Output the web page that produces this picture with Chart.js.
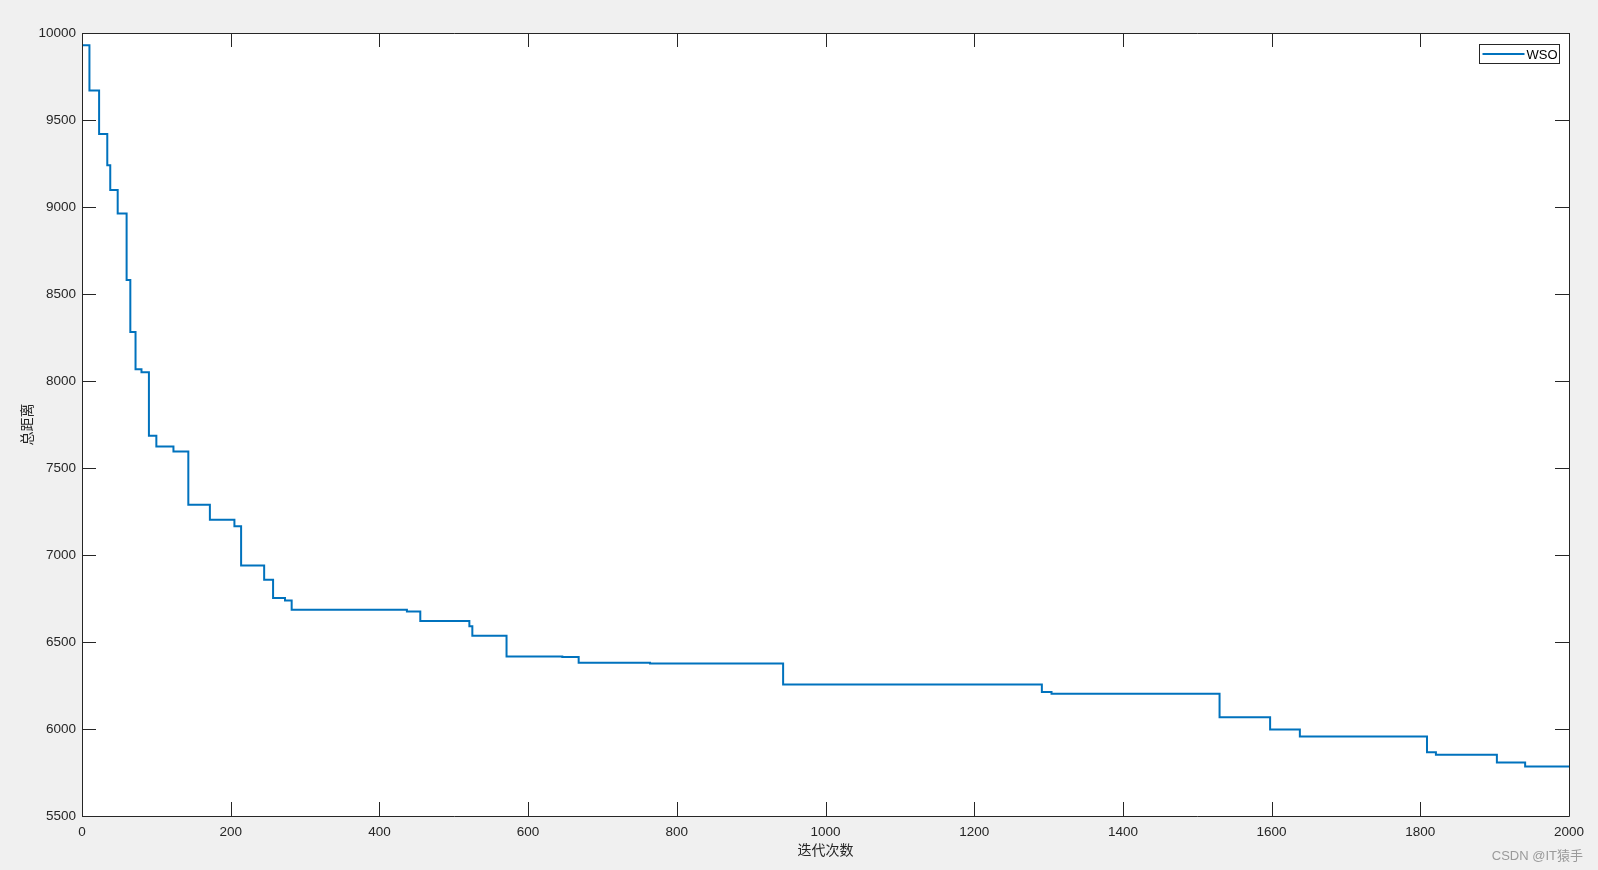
<!DOCTYPE html>
<html>
<head>
<meta charset="utf-8">
<script src="https://cdn.jsdelivr.net/npm/chart.js@4/dist/chart.umd.min.js"></script>
<style>
  html, body { margin: 0; padding: 0; background: #f0f0f0; }
  #wrap { position: relative; width: 1598px; height: 870px; }
  #mark { position: absolute; right: 15px; top: 845px; font: 13px "Liberation Sans", "Noto Sans CJK SC", sans-serif; color: #9a9a9a; }
</style>
</head>
<body>
<div id="wrap">
  <canvas id="curve" width="1598" height="870"></canvas>
  <div id="mark">CSDN @IT猿手</div>
</div>
<script>
// iteration where each step starts, and the best total distance from there on
const iterations = [0, 10, 23, 34, 38, 48, 60, 65, 72, 80, 90, 100, 123, 143, 172, 205, 214, 245, 257, 273, 282,
  437, 455, 521, 525, 571, 646, 668, 764, 943, 1291, 1304, 1530, 1598, 1638, 1809, 1821, 1903, 1941, 2000];
const distance = [9930, 9670, 9420, 9240, 9098, 8963, 8580, 8282, 8067, 8050, 7686, 7624, 7595, 7289, 7203, 7165, 6939, 6858, 6753, 6739, 6686,
  6676, 6621, 6590, 6536, 6417, 6414, 6381, 6377, 6256, 6212, 6203, 6067, 5997, 5957, 5866, 5852, 5808, 5785, 5785];
const seriesName = "WSO";
const xTitle = "迭代次数";
const yTitle = "总距离";

const ink = "#262626";
const font = "'Liberation Sans', Arial, sans-serif";
const cjk = "'Noto Sans CJK SC', sans-serif";

// white plot box, black frame, ticks pointing inward on all four sides
const matlabAxes = {
  id: "matlabAxes",
  beforeDraw(chart) {
    const a = chart.chartArea, c = chart.ctx;
    c.save();
    c.fillStyle = "#ffffff";
    c.fillRect(a.left, a.top, a.right - a.left, a.bottom - a.top);
    c.restore();
  },
  afterDraw(chart) {
    const a = chart.chartArea, c = chart.ctx;
    const xs = chart.scales.x, ys = chart.scales.y;
    const len = 14;
    c.save();
    c.strokeStyle = ink;
    c.lineWidth = 1;
    c.beginPath();
    c.rect(Math.round(a.left) + 0.5, Math.round(a.top) + 0.5, Math.round(a.right - a.left), Math.round(a.bottom - a.top));
    xs.ticks.forEach(t => {
      const px = Math.round(xs.getPixelForValue(t.value)) + 0.5;
      c.moveTo(px, a.bottom); c.lineTo(px, a.bottom - len);
      c.moveTo(px, a.top); c.lineTo(px, a.top + len);
    });
    ys.ticks.forEach(t => {
      const py = Math.round(ys.getPixelForValue(t.value)) + 0.5;
      c.moveTo(a.left, py); c.lineTo(a.left + len, py);
      c.moveTo(a.right, py); c.lineTo(a.right - len, py);
    });
    c.stroke();

    // legend box in the top right corner
    const bx = 1479.5, by = 44.5, bw = 80, bh = 19;
    c.fillStyle = "#ffffff";
    c.fillRect(bx, by, bw, bh);
    c.strokeStyle = ink;
    c.strokeRect(bx, by, bw, bh);
    c.strokeStyle = "#0072BD";
    c.lineWidth = 2;
    c.beginPath();
    c.moveTo(bx + 3, by + bh / 2); c.lineTo(bx + 45, by + bh / 2);
    c.stroke();
    c.fillStyle = "#000000";
    c.font = "13px " + font;
    c.textBaseline = "middle";
    c.fillText(seriesName, bx + 47, by + bh / 2 + 1);
    c.restore();
  }
};

const points = iterations.map((it, i) => ({ x: it, y: distance[i] }));

new Chart(document.getElementById("curve"), {
  type: "line",
  data: {
    datasets: [{
      label: seriesName,
      data: points,
      stepped: "before",
      borderColor: "#0072BD",
      borderWidth: 2,
      pointRadius: 0,
      fill: false
    }]
  },
  options: {
    responsive: false,
    animation: false,
    layout: { padding: { left: 0, top: 33, right: 29, bottom: 0 } },
    plugins: { legend: { display: false }, tooltip: { enabled: false } },
    scales: {
      x: {
        type: "linear",
        min: 0,
        max: 2000,
        ticks: { stepSize: 200, color: ink, font: { family: font, size: 13.5 }, padding: 8, maxRotation: 0,
          callback: v => String(v) },
        grid: { display: false, drawTicks: false },
        border: { display: false },
        title: { display: true, text: xTitle, color: ink, font: { family: cjk, size: 14 }, padding: { top: 0, bottom: 12 } },
        afterFit(scale) { scale.height = 54; }
      },
      y: {
        min: 5500,
        max: 10000,
        ticks: { stepSize: 500, color: ink, font: { family: font, size: 13.5 }, padding: 6,
          callback: v => String(v) },
        grid: { display: false, drawTicks: false },
        border: { display: false },
        title: { display: true, text: yTitle, color: ink, font: { family: cjk, size: 14 }, padding: { top: 18, bottom: 0 } },
        afterFit(scale) { scale.width = 82; }
      }
    }
  },
  plugins: [matlabAxes]
});
</script>
</body>
</html>
